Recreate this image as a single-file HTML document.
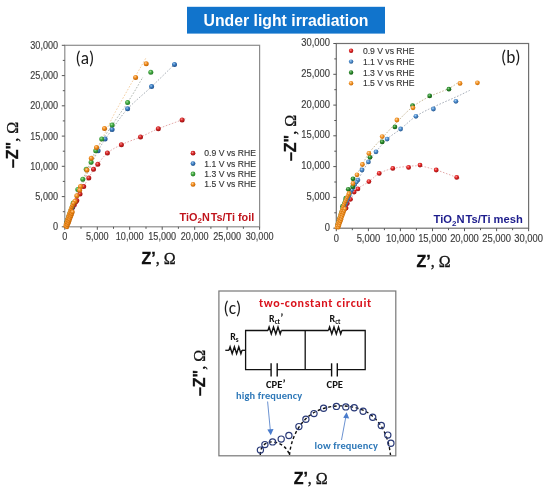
<!DOCTYPE html>
<html><head><meta charset="utf-8"><title>Under light irradiation</title>
<style>
html,body{margin:0;padding:0;background:#fff;}
body{width:550px;height:491px;overflow:hidden;}
svg{display:block;}
.ban{font:bold 15.8px "Liberation Sans",Arial,sans-serif;fill:#fff;}
.tl{font:10.4px "Liberation Sans",Arial,sans-serif;fill:#3c3c3c;stroke:#3c3c3c;stroke-width:0.15px;}
.lg{font:8.6px "Liberation Sans",Arial,sans-serif;fill:#333;stroke:#333;stroke-width:0.12px;}
.pl{font:17.3px Carlito,"Liberation Sans",sans-serif;fill:#1a1a1a;}
.lab{font:bold 11.2px "Liberation Sans",Arial,sans-serif;}
.sub2{font-size:8px;}
.ax{font-size:16px;fill:#111;}
.axb{font-family:"Liberation Sans",Arial,sans-serif;font-weight:bold;stroke:#111;stroke-width:0.35px;}
.axs{font-family:"Liberation Serif","Times New Roman",serif;font-size:16px;stroke:#111;stroke-width:0.3px;}
.cc{font:bold 12px Carlito,"Liberation Sans",sans-serif;fill:#da121c;letter-spacing:0.68px;}
.cl{font:bold 10px Carlito,"Liberation Sans",sans-serif;fill:#111;}
.sub{font-size:7px;}
.cl2{font:bold 10.6px Carlito,"Liberation Sans",sans-serif;fill:#111;}
.fq{font:bold 10.4px Carlito,"Liberation Sans",sans-serif;fill:#2e78b8;letter-spacing:0.15px;}
</style></head><body>
<svg width="550" height="491" viewBox="0 0 550 491">
<defs><radialGradient id="Ar" cx="0.4" cy="0.35" r="0.65"><stop offset="0" stop-color="#f59090"/><stop offset="0.45" stop-color="#d42626"/><stop offset="1" stop-color="#9a1010"/></radialGradient><radialGradient id="Ab" cx="0.4" cy="0.35" r="0.65"><stop offset="0" stop-color="#a0c8ee"/><stop offset="0.45" stop-color="#3a7cc0"/><stop offset="1" stop-color="#1f4f8a"/></radialGradient><radialGradient id="Ag" cx="0.4" cy="0.35" r="0.65"><stop offset="0" stop-color="#a8e0a0"/><stop offset="0.45" stop-color="#42a842"/><stop offset="1" stop-color="#237a23"/></radialGradient><radialGradient id="Ao" cx="0.4" cy="0.35" r="0.65"><stop offset="0" stop-color="#ffd29a"/><stop offset="0.45" stop-color="#f08c1e"/><stop offset="1" stop-color="#c06000"/></radialGradient><radialGradient id="Br" cx="0.4" cy="0.35" r="0.65"><stop offset="0" stop-color="#ff9a9a"/><stop offset="0.45" stop-color="#e02424"/><stop offset="1" stop-color="#a01010"/></radialGradient><radialGradient id="Bb" cx="0.4" cy="0.35" r="0.65"><stop offset="0" stop-color="#b0d4f4"/><stop offset="0.45" stop-color="#4a8acb"/><stop offset="1" stop-color="#2a5a90"/></radialGradient><radialGradient id="Bg" cx="0.4" cy="0.35" r="0.65"><stop offset="0" stop-color="#90d090"/><stop offset="0.45" stop-color="#2a8a2a"/><stop offset="1" stop-color="#145a14"/></radialGradient><radialGradient id="Bo" cx="0.4" cy="0.35" r="0.65"><stop offset="0" stop-color="#ffd8a8"/><stop offset="0.45" stop-color="#f29428"/><stop offset="1" stop-color="#c86800"/></radialGradient></defs>
<rect width="550" height="491" fill="#fff"/>
<rect x="187" y="6.8" width="198" height="26.8" fill="#1174cc"/>
<text x="286" y="25.6" text-anchor="middle" class="ban">Under light irradiation</text>
<!-- panel a -->
<rect x="64.8" y="45.3" width="194.8" height="181.5" fill="none" stroke="#8c8c8c" stroke-width="1.2"/>
<line x1="64.8" y1="226.8" x2="64.8" y2="229.8" stroke="#555" stroke-width="1"/>
<line x1="64.8" y1="226.8" x2="61.8" y2="226.8" stroke="#555" stroke-width="1"/>
<line x1="81.0" y1="226.8" x2="81.0" y2="228.8" stroke="#555" stroke-width="1"/>
<line x1="64.8" y1="211.7" x2="62.8" y2="211.7" stroke="#555" stroke-width="1"/>
<line x1="97.3" y1="226.8" x2="97.3" y2="229.8" stroke="#555" stroke-width="1"/>
<line x1="64.8" y1="196.6" x2="61.8" y2="196.6" stroke="#555" stroke-width="1"/>
<line x1="113.5" y1="226.8" x2="113.5" y2="228.8" stroke="#555" stroke-width="1"/>
<line x1="64.8" y1="181.4" x2="62.8" y2="181.4" stroke="#555" stroke-width="1"/>
<line x1="129.7" y1="226.8" x2="129.7" y2="229.8" stroke="#555" stroke-width="1"/>
<line x1="64.8" y1="166.3" x2="61.8" y2="166.3" stroke="#555" stroke-width="1"/>
<line x1="146.0" y1="226.8" x2="146.0" y2="228.8" stroke="#555" stroke-width="1"/>
<line x1="64.8" y1="151.2" x2="62.8" y2="151.2" stroke="#555" stroke-width="1"/>
<line x1="162.2" y1="226.8" x2="162.2" y2="229.8" stroke="#555" stroke-width="1"/>
<line x1="64.8" y1="136.1" x2="61.8" y2="136.1" stroke="#555" stroke-width="1"/>
<line x1="178.4" y1="226.8" x2="178.4" y2="228.8" stroke="#555" stroke-width="1"/>
<line x1="64.8" y1="120.9" x2="62.8" y2="120.9" stroke="#555" stroke-width="1"/>
<line x1="194.7" y1="226.8" x2="194.7" y2="229.8" stroke="#555" stroke-width="1"/>
<line x1="64.8" y1="105.8" x2="61.8" y2="105.8" stroke="#555" stroke-width="1"/>
<line x1="210.9" y1="226.8" x2="210.9" y2="228.8" stroke="#555" stroke-width="1"/>
<line x1="64.8" y1="90.7" x2="62.8" y2="90.7" stroke="#555" stroke-width="1"/>
<line x1="227.1" y1="226.8" x2="227.1" y2="229.8" stroke="#555" stroke-width="1"/>
<line x1="64.8" y1="75.6" x2="61.8" y2="75.6" stroke="#555" stroke-width="1"/>
<line x1="243.4" y1="226.8" x2="243.4" y2="228.8" stroke="#555" stroke-width="1"/>
<line x1="64.8" y1="60.4" x2="62.8" y2="60.4" stroke="#555" stroke-width="1"/>
<line x1="259.6" y1="226.8" x2="259.6" y2="229.8" stroke="#555" stroke-width="1"/>
<line x1="64.8" y1="45.3" x2="61.8" y2="45.3" stroke="#555" stroke-width="1"/>
<text x="64.8" y="239.7" text-anchor="middle" class="tl" textLength="5.1" lengthAdjust="spacingAndGlyphs">0</text>
<text x="58.1" y="230.2" text-anchor="end" class="tl" textLength="5.1" lengthAdjust="spacingAndGlyphs">0</text>
<text x="97.3" y="239.7" text-anchor="middle" class="tl" textLength="22.8" lengthAdjust="spacingAndGlyphs">5,000</text>
<text x="58.1" y="200.0" text-anchor="end" class="tl" textLength="22.8" lengthAdjust="spacingAndGlyphs">5,000</text>
<text x="129.7" y="239.7" text-anchor="middle" class="tl" textLength="27.8" lengthAdjust="spacingAndGlyphs">10,000</text>
<text x="58.1" y="169.7" text-anchor="end" class="tl" textLength="27.8" lengthAdjust="spacingAndGlyphs">10,000</text>
<text x="162.2" y="239.7" text-anchor="middle" class="tl" textLength="27.8" lengthAdjust="spacingAndGlyphs">15,000</text>
<text x="58.1" y="139.5" text-anchor="end" class="tl" textLength="27.8" lengthAdjust="spacingAndGlyphs">15,000</text>
<text x="194.7" y="239.7" text-anchor="middle" class="tl" textLength="27.8" lengthAdjust="spacingAndGlyphs">20,000</text>
<text x="58.1" y="109.2" text-anchor="end" class="tl" textLength="27.8" lengthAdjust="spacingAndGlyphs">20,000</text>
<text x="227.1" y="239.7" text-anchor="middle" class="tl" textLength="27.8" lengthAdjust="spacingAndGlyphs">25,000</text>
<text x="58.1" y="79.0" text-anchor="end" class="tl" textLength="27.8" lengthAdjust="spacingAndGlyphs">25,000</text>
<text x="259.6" y="239.7" text-anchor="middle" class="tl" textLength="27.8" lengthAdjust="spacingAndGlyphs">30,000</text>
<text x="58.1" y="48.7" text-anchor="end" class="tl" textLength="27.8" lengthAdjust="spacingAndGlyphs">30,000</text>
<path d="M65.0,227.0 L65.9,224.9 L67.2,222.0 L68.6,218.6 L70.3,214.9 L72.0,210.9 L73.8,207.0 L75.4,203.3 L77.0,200.0 L78.5,197.0 L80.0,194.0 L81.4,191.0 L82.9,188.2 L84.4,185.4 L85.8,182.8 L87.2,180.3 L88.5,178.0 L89.8,175.9 L91.0,173.9 L92.1,172.1 L93.3,170.5 L94.4,168.9 L95.5,167.4 L96.6,165.8 L97.8,164.3 L99.0,162.8 L100.1,161.2 L101.2,159.8 L102.3,158.3 L103.5,156.9 L104.7,155.6 L106.0,154.3 L107.4,153.0 L108.9,151.8 L110.5,150.7 L112.1,149.6 L113.8,148.6 L115.6,147.6 L117.4,146.7 L119.4,145.7 L121.4,144.7 L123.6,143.7 L125.8,142.7 L128.2,141.8 L130.7,140.8 L133.2,139.9 L135.7,139.0 L138.1,138.0 L140.5,137.0 L142.7,136.0 L144.9,135.0 L147.0,134.0 L149.1,132.9 L151.2,131.9 L153.5,130.8 L155.8,129.8 L158.3,128.7 L161.1,127.6 L164.3,126.4 L167.7,125.1 L171.1,123.9 L174.4,122.7 L177.4,121.6 L180.0,120.6 L182.1,119.9 L183.6,119.4 L184.6,119.0 L185.2,118.8 L185.5,118.7 L185.7,118.6 L185.8,118.6 L185.8,118.6 L186.0,118.5" fill="none" stroke="#e0a0a0" stroke-width="0.9" stroke-dasharray="1.6 1.6"/>
<path d="M65.0,227.0 L66.1,224.2 L67.6,220.4 L69.4,215.9 L71.4,211.0 L73.5,205.7 L75.7,200.3 L77.9,195.0 L80.0,190.0 L82.1,185.1 L84.4,179.9 L86.7,174.6 L89.1,169.4 L91.5,164.2 L93.8,159.3 L96.0,154.8 L98.1,150.7 L100.0,147.2 L101.9,144.1 L103.6,141.4 L105.3,138.9 L106.9,136.6 L108.6,134.3 L110.3,132.0 L112.1,129.5 L113.9,126.9 L115.7,124.3 L117.4,121.8 L119.2,119.2 L121.1,116.7 L123.1,114.1 L125.2,111.5 L127.6,108.8 L130.2,106.1 L133.0,103.4 L136.0,100.6 L139.1,97.8 L142.3,95.0 L145.5,92.2 L148.6,89.4 L151.6,86.6 L154.7,83.7 L157.9,80.5 L161.3,77.3 L164.5,74.1 L167.6,71.1 L170.4,68.4 L172.7,66.1 L174.5,64.4" fill="none" stroke="#9ca4ac" stroke-width="0.9" stroke-dasharray="1.6 1.6"/>
<path d="M65.0,227.0 L65.8,224.8 L66.8,221.7 L68.0,218.1 L69.3,214.1 L70.8,210.0 L72.2,206.0 L73.5,202.2 L74.7,198.9 L75.8,196.2 L76.7,193.7 L77.6,191.5 L78.6,189.4 L79.5,187.3 L80.5,185.1 L81.6,182.6 L82.8,179.8 L84.2,176.6 L85.6,173.1 L87.1,169.5 L88.7,165.7 L90.4,161.8 L92.1,158.0 L93.9,154.2 L95.7,150.7 L97.6,147.3 L99.6,144.0 L101.6,140.7 L103.7,137.5 L105.9,134.3 L108.0,131.2 L110.1,128.1 L112.1,125.1 L114.1,122.2 L116.0,119.3 L118.0,116.6 L119.9,113.8 L121.8,111.1 L123.8,108.4 L125.7,105.5 L127.6,102.6 L129.6,99.4 L131.8,95.8 L134.1,92.1 L136.3,88.4 L138.4,84.9 L140.2,81.7 L141.8,79.0 L143.0,77.0" fill="none" stroke="#a4aca4" stroke-width="0.9" stroke-dasharray="1.6 1.6"/>
<path d="M65.0,227.0 L66.6,223.0 L68.7,217.6 L71.3,211.2 L74.1,204.1 L77.1,196.6 L80.2,189.0 L83.2,181.7 L86.0,175.0 L88.8,168.5 L91.7,161.9 L94.7,155.2 L97.7,148.7 L100.6,142.3 L103.4,136.2 L106.1,130.6 L108.5,125.5 L110.6,121.2 L112.4,117.6 L113.9,114.6 L115.4,111.8 L116.9,109.1 L118.5,106.2 L120.3,102.9 L122.5,99.0 L125.2,94.2 L128.4,88.6 L131.8,82.5 L135.4,76.3 L138.8,70.4 L142.0,64.9 L144.6,60.3 L146.5,57.0" fill="none" stroke="#f2c896" stroke-width="0.9" stroke-dasharray="1.6 1.6"/>
<circle cx="182.1" cy="119.9" r="2.5" fill="url(#Ar)"/>
<circle cx="158.3" cy="128.7" r="2.5" fill="url(#Ar)"/>
<circle cx="140.5" cy="137.0" r="2.5" fill="url(#Ar)"/>
<circle cx="121.4" cy="144.7" r="2.5" fill="url(#Ar)"/>
<circle cx="107.4" cy="153.0" r="2.5" fill="url(#Ar)"/>
<circle cx="97.8" cy="164.3" r="2.5" fill="url(#Ar)"/>
<circle cx="93.5" cy="169.3" r="2.5" fill="url(#Ar)"/>
<circle cx="88.8" cy="178.0" r="2.5" fill="url(#Ar)"/>
<circle cx="83.7" cy="186.6" r="2.5" fill="url(#Ar)"/>
<circle cx="80.0" cy="194.0" r="2.5" fill="url(#Ar)"/>
<circle cx="76.8" cy="200.4" r="2.5" fill="url(#Ar)"/>
<circle cx="66.0" cy="224.0" r="2.2" fill="url(#Ar)"/>
<circle cx="67.0" cy="221.2" r="2.2" fill="url(#Ar)"/>
<circle cx="68.0" cy="218.3" r="2.2" fill="url(#Ar)"/>
<circle cx="69.0" cy="215.5" r="2.2" fill="url(#Ar)"/>
<circle cx="70.1" cy="212.7" r="2.2" fill="url(#Ar)"/>
<circle cx="71.5" cy="210.1" r="2.2" fill="url(#Ar)"/>
<circle cx="73.1" cy="207.5" r="2.2" fill="url(#Ar)"/>
<circle cx="74.6" cy="204.9" r="2.2" fill="url(#Ar)"/>
<circle cx="75.9" cy="202.2" r="2.2" fill="url(#Ar)"/>
<circle cx="174.5" cy="64.4" r="2.5" fill="url(#Ab)"/>
<circle cx="151.6" cy="86.6" r="2.5" fill="url(#Ab)"/>
<circle cx="127.6" cy="108.8" r="2.5" fill="url(#Ab)"/>
<circle cx="112.1" cy="129.5" r="2.5" fill="url(#Ab)"/>
<circle cx="105.1" cy="139.0" r="2.5" fill="url(#Ab)"/>
<circle cx="98.1" cy="150.7" r="2.5" fill="url(#Ab)"/>
<circle cx="66.0" cy="224.0" r="2.2" fill="url(#Ab)"/>
<circle cx="67.1" cy="221.2" r="2.2" fill="url(#Ab)"/>
<circle cx="68.2" cy="218.4" r="2.2" fill="url(#Ab)"/>
<circle cx="69.4" cy="215.6" r="2.2" fill="url(#Ab)"/>
<circle cx="70.4" cy="212.9" r="2.2" fill="url(#Ab)"/>
<circle cx="71.5" cy="210.0" r="2.2" fill="url(#Ab)"/>
<circle cx="72.5" cy="207.2" r="2.2" fill="url(#Ab)"/>
<circle cx="150.8" cy="72.3" r="2.5" fill="url(#Ag)"/>
<circle cx="127.6" cy="102.6" r="2.5" fill="url(#Ag)"/>
<circle cx="112.1" cy="125.1" r="2.5" fill="url(#Ag)"/>
<circle cx="101.7" cy="139.0" r="2.5" fill="url(#Ag)"/>
<circle cx="95.7" cy="150.7" r="2.5" fill="url(#Ag)"/>
<circle cx="91.1" cy="162.3" r="2.5" fill="url(#Ag)"/>
<circle cx="86.2" cy="169.3" r="2.5" fill="url(#Ag)"/>
<circle cx="82.8" cy="179.3" r="2.5" fill="url(#Ag)"/>
<circle cx="77.8" cy="189.4" r="2.5" fill="url(#Ag)"/>
<circle cx="73.2" cy="203.1" r="2.5" fill="url(#Ag)"/>
<circle cx="66.0" cy="224.0" r="2.2" fill="url(#Ag)"/>
<circle cx="66.9" cy="221.2" r="2.2" fill="url(#Ag)"/>
<circle cx="67.9" cy="218.3" r="2.2" fill="url(#Ag)"/>
<circle cx="68.8" cy="215.5" r="2.2" fill="url(#Ag)"/>
<circle cx="69.8" cy="212.6" r="2.2" fill="url(#Ag)"/>
<circle cx="70.8" cy="209.8" r="2.2" fill="url(#Ag)"/>
<circle cx="71.8" cy="207.0" r="2.2" fill="url(#Ag)"/>
<circle cx="72.8" cy="204.1" r="2.2" fill="url(#Ag)"/>
<circle cx="146.2" cy="63.8" r="2.5" fill="url(#Ao)"/>
<circle cx="135.6" cy="77.4" r="2.5" fill="url(#Ao)"/>
<circle cx="104.5" cy="128.5" r="2.5" fill="url(#Ao)"/>
<circle cx="96.5" cy="147.5" r="2.5" fill="url(#Ao)"/>
<circle cx="91.3" cy="158.3" r="2.5" fill="url(#Ao)"/>
<circle cx="86.9" cy="170.1" r="2.5" fill="url(#Ao)"/>
<circle cx="80.5" cy="186.6" r="2.5" fill="url(#Ao)"/>
<circle cx="79.6" cy="190.3" r="2.5" fill="url(#Ao)"/>
<circle cx="76.8" cy="195.8" r="2.5" fill="url(#Ao)"/>
<circle cx="75.0" cy="201.3" r="2.5" fill="url(#Ao)"/>
<circle cx="65.5" cy="226.0" r="2.2" fill="url(#Ao)"/>
<circle cx="66.1" cy="224.1" r="2.2" fill="url(#Ao)"/>
<circle cx="66.7" cy="222.2" r="2.2" fill="url(#Ao)"/>
<circle cx="67.3" cy="220.3" r="2.2" fill="url(#Ao)"/>
<circle cx="67.9" cy="218.4" r="2.2" fill="url(#Ao)"/>
<circle cx="68.5" cy="216.5" r="2.2" fill="url(#Ao)"/>
<circle cx="69.1" cy="214.6" r="2.2" fill="url(#Ao)"/>
<circle cx="69.7" cy="212.7" r="2.2" fill="url(#Ao)"/>
<circle cx="70.4" cy="210.8" r="2.2" fill="url(#Ao)"/>
<circle cx="71.0" cy="208.9" r="2.2" fill="url(#Ao)"/>
<circle cx="71.8" cy="207.0" r="2.2" fill="url(#Ao)"/>
<circle cx="72.6" cy="205.2" r="2.2" fill="url(#Ao)"/>
<circle cx="73.4" cy="203.3" r="2.2" fill="url(#Ao)"/>
<circle cx="67.0" cy="227.0" r="2.2" fill="url(#Ao)"/>
<circle cx="67.7" cy="225.1" r="2.2" fill="url(#Ao)"/>
<circle cx="68.4" cy="223.3" r="2.2" fill="url(#Ao)"/>
<circle cx="69.1" cy="221.4" r="2.2" fill="url(#Ao)"/>
<circle cx="69.8" cy="219.5" r="2.2" fill="url(#Ao)"/>
<circle cx="70.5" cy="217.6" r="2.2" fill="url(#Ao)"/>
<circle cx="71.2" cy="215.8" r="2.2" fill="url(#Ao)"/>
<circle cx="71.9" cy="213.9" r="2.2" fill="url(#Ao)"/>
<circle cx="72.6" cy="212.0" r="2.2" fill="url(#Ao)"/>
<text x="75.5" y="63.5" class="pl" lengthAdjust="spacingAndGlyphs" textLength="18.77">(a)</text>
<circle cx="193" cy="153.2" r="2.4" fill="url(#Ar)"/>
<text x="204.3" y="156.2" class="lg">0.9 V vs RHE</text>
<circle cx="193" cy="163.6" r="2.4" fill="url(#Ab)"/>
<text x="204.3" y="166.6" class="lg">1.1 V vs RHE</text>
<circle cx="193" cy="174.0" r="2.4" fill="url(#Ag)"/>
<text x="204.3" y="177.0" class="lg">1.3 V vs RHE</text>
<circle cx="193" cy="184.4" r="2.4" fill="url(#Ao)"/>
<text x="204.3" y="187.4" class="lg">1.5 V vs RHE</text>
<text x="179.6" y="220.8" class="lab" fill="#c0141c" style="font-size:10.85px">TiO<tspan class="sub2" dy="2.5">2</tspan><tspan dy="-2.5">N&#8202;Ts/Ti foil</tspan></text>
<text transform="translate(18.3,145) rotate(-90)" text-anchor="middle" class="ax"><tspan class="axb">&#8211;Z"</tspan><tspan class="axs">, &#937;</tspan></text>
<text x="158.5" y="264.4" text-anchor="middle" class="ax"><tspan class="axb">Z&#8217;</tspan><tspan class="axs">, &#937;</tspan></text>
<!-- panel b -->
<rect x="336.3" y="43.5" width="192.3" height="184.7" fill="none" stroke="#707070" stroke-width="1.2"/>
<line x1="336.3" y1="228.2" x2="336.3" y2="231.2" stroke="#555" stroke-width="1"/>
<line x1="336.3" y1="228.2" x2="333.3" y2="228.2" stroke="#555" stroke-width="1"/>
<line x1="352.3" y1="228.2" x2="352.3" y2="230.2" stroke="#555" stroke-width="1"/>
<line x1="336.3" y1="212.8" x2="334.3" y2="212.8" stroke="#555" stroke-width="1"/>
<line x1="368.4" y1="228.2" x2="368.4" y2="231.2" stroke="#555" stroke-width="1"/>
<line x1="336.3" y1="197.4" x2="333.3" y2="197.4" stroke="#555" stroke-width="1"/>
<line x1="384.4" y1="228.2" x2="384.4" y2="230.2" stroke="#555" stroke-width="1"/>
<line x1="336.3" y1="182.0" x2="334.3" y2="182.0" stroke="#555" stroke-width="1"/>
<line x1="400.4" y1="228.2" x2="400.4" y2="231.2" stroke="#555" stroke-width="1"/>
<line x1="336.3" y1="166.6" x2="333.3" y2="166.6" stroke="#555" stroke-width="1"/>
<line x1="416.4" y1="228.2" x2="416.4" y2="230.2" stroke="#555" stroke-width="1"/>
<line x1="336.3" y1="151.2" x2="334.3" y2="151.2" stroke="#555" stroke-width="1"/>
<line x1="432.5" y1="228.2" x2="432.5" y2="231.2" stroke="#555" stroke-width="1"/>
<line x1="336.3" y1="135.8" x2="333.3" y2="135.8" stroke="#555" stroke-width="1"/>
<line x1="448.5" y1="228.2" x2="448.5" y2="230.2" stroke="#555" stroke-width="1"/>
<line x1="336.3" y1="120.5" x2="334.3" y2="120.5" stroke="#555" stroke-width="1"/>
<line x1="464.5" y1="228.2" x2="464.5" y2="231.2" stroke="#555" stroke-width="1"/>
<line x1="336.3" y1="105.1" x2="333.3" y2="105.1" stroke="#555" stroke-width="1"/>
<line x1="480.5" y1="228.2" x2="480.5" y2="230.2" stroke="#555" stroke-width="1"/>
<line x1="336.3" y1="89.7" x2="334.3" y2="89.7" stroke="#555" stroke-width="1"/>
<line x1="496.6" y1="228.2" x2="496.6" y2="231.2" stroke="#555" stroke-width="1"/>
<line x1="336.3" y1="74.3" x2="333.3" y2="74.3" stroke="#555" stroke-width="1"/>
<line x1="512.6" y1="228.2" x2="512.6" y2="230.2" stroke="#555" stroke-width="1"/>
<line x1="336.3" y1="58.9" x2="334.3" y2="58.9" stroke="#555" stroke-width="1"/>
<line x1="528.6" y1="228.2" x2="528.6" y2="231.2" stroke="#555" stroke-width="1"/>
<line x1="336.3" y1="43.5" x2="333.3" y2="43.5" stroke="#555" stroke-width="1"/>
<text x="336.3" y="241.6" text-anchor="middle" class="tl" textLength="5.2" lengthAdjust="spacingAndGlyphs">0</text>
<text x="330.0" y="230.6" text-anchor="end" class="tl" textLength="5.2" lengthAdjust="spacingAndGlyphs">0</text>
<text x="368.4" y="241.6" text-anchor="middle" class="tl" textLength="23.5" lengthAdjust="spacingAndGlyphs">5,000</text>
<text x="330.0" y="199.8" text-anchor="end" class="tl" textLength="23.5" lengthAdjust="spacingAndGlyphs">5,000</text>
<text x="400.4" y="241.6" text-anchor="middle" class="tl" textLength="28.7" lengthAdjust="spacingAndGlyphs">10,000</text>
<text x="330.0" y="169.0" text-anchor="end" class="tl" textLength="28.7" lengthAdjust="spacingAndGlyphs">10,000</text>
<text x="432.5" y="241.6" text-anchor="middle" class="tl" textLength="28.7" lengthAdjust="spacingAndGlyphs">15,000</text>
<text x="330.0" y="138.2" text-anchor="end" class="tl" textLength="28.7" lengthAdjust="spacingAndGlyphs">15,000</text>
<text x="464.5" y="241.6" text-anchor="middle" class="tl" textLength="28.7" lengthAdjust="spacingAndGlyphs">20,000</text>
<text x="330.0" y="107.5" text-anchor="end" class="tl" textLength="28.7" lengthAdjust="spacingAndGlyphs">20,000</text>
<text x="496.6" y="241.6" text-anchor="middle" class="tl" textLength="28.7" lengthAdjust="spacingAndGlyphs">25,000</text>
<text x="330.0" y="76.7" text-anchor="end" class="tl" textLength="28.7" lengthAdjust="spacingAndGlyphs">25,000</text>
<text x="528.6" y="241.6" text-anchor="middle" class="tl" textLength="28.7" lengthAdjust="spacingAndGlyphs">30,000</text>
<text x="330.0" y="45.9" text-anchor="end" class="tl" textLength="28.7" lengthAdjust="spacingAndGlyphs">30,000</text>
<path d="M336.5,228.0 L336.8,227.0 L337.1,225.5 L337.4,223.8 L337.9,221.9 L338.3,220.0 L338.9,218.1 L339.4,216.4 L340.0,215.0 L340.6,213.9 L341.4,212.9 L342.2,212.0 L343.0,211.3 L343.8,210.6 L344.6,209.8 L345.4,209.0 L346.1,208.1 L346.7,207.1 L347.2,206.1 L347.7,205.0 L348.2,203.9 L348.7,202.8 L349.2,201.7 L349.8,200.5 L350.5,199.3 L351.3,198.1 L352.1,196.7 L352.9,195.4 L353.8,194.0 L354.7,192.6 L355.7,191.3 L356.8,190.1 L357.9,188.9 L359.1,187.8 L360.4,186.9 L361.8,186.0 L363.2,185.1 L364.7,184.3 L366.1,183.4 L367.5,182.5 L368.9,181.6 L370.2,180.6 L371.4,179.5 L372.7,178.5 L373.9,177.4 L375.1,176.3 L376.4,175.2 L377.8,174.3 L379.2,173.4 L380.7,172.6 L382.3,171.9 L384.0,171.2 L385.7,170.5 L387.4,169.9 L389.2,169.4 L391.0,168.9 L392.8,168.4 L394.7,168.0 L396.7,167.7 L398.8,167.4 L400.8,167.1 L402.9,166.9 L404.9,166.7 L406.8,166.6 L408.6,166.4 L410.2,166.2 L411.6,166.1 L413.0,165.9 L414.3,165.8 L415.6,165.8 L416.9,165.8 L418.4,165.8 L420.0,166.0 L421.8,166.3 L423.6,166.6 L425.5,167.0 L427.5,167.5 L429.6,168.1 L431.7,168.7 L433.9,169.3 L436.2,170.0 L438.7,170.8 L441.4,171.7 L444.3,172.8 L447.3,173.9 L450.1,174.9 L452.7,175.9 L454.9,176.7 L456.7,177.4 L458.0,177.9 L458.8,178.2 L459.3,178.5 L459.6,178.7 L459.8,178.8 L459.8,178.8 L459.9,178.9 L460.0,179.0" fill="none" stroke="#e0a0a0" stroke-width="0.9" stroke-dasharray="1.6 1.6"/>
<path d="M336.5,228.0 L337.1,226.2 L337.9,223.9 L338.9,221.1 L339.9,218.1 L341.1,214.8 L342.4,211.4 L343.7,208.1 L345.0,205.0 L346.4,201.9 L348.0,198.8 L349.6,195.5 L351.3,192.2 L353.0,189.0 L354.7,185.9 L356.4,182.9 L357.9,180.1 L359.3,177.4 L360.8,174.9 L362.1,172.4 L363.5,170.1 L364.8,167.8 L366.0,165.7 L367.2,163.7 L368.4,161.9 L369.5,160.3 L370.4,158.9 L371.3,157.6 L372.2,156.5 L373.0,155.4 L373.9,154.3 L374.9,153.1 L376.0,151.8 L377.2,150.3 L378.5,148.7 L379.8,147.1 L381.2,145.5 L382.6,143.8 L384.1,142.2 L385.6,140.6 L387.1,139.1 L388.7,137.7 L390.3,136.5 L391.9,135.2 L393.6,134.0 L395.3,132.9 L397.0,131.6 L398.8,130.4 L400.6,129.0 L402.4,127.5 L404.2,125.9 L406.1,124.3 L408.0,122.6 L409.9,120.9 L411.9,119.3 L413.9,117.7 L415.9,116.3 L417.9,115.0 L420.0,113.8 L422.1,112.6 L424.2,111.5 L426.4,110.4 L428.6,109.3 L431.0,108.2 L433.4,107.0 L436.0,105.8 L438.9,104.5 L441.9,103.2 L444.9,101.8 L447.9,100.5 L450.8,99.3 L453.5,98.1 L455.9,97.0 L458.1,96.0 L460.3,95.0 L462.3,94.0 L464.2,93.1 L465.9,92.2 L467.4,91.5 L468.7,90.9 L469.7,90.4" fill="none" stroke="#9ca4b0" stroke-width="0.9" stroke-dasharray="1.6 1.6"/>
<path d="M336.5,228.0 L337.0,226.1 L337.7,223.6 L338.5,220.6 L339.4,217.2 L340.3,213.8 L341.3,210.5 L342.2,207.5 L343.0,205.0 L343.8,203.1 L344.5,201.5 L345.2,200.1 L345.9,198.9 L346.6,197.8 L347.4,196.5 L348.2,195.1 L349.0,193.4 L349.9,191.4 L350.8,189.3 L351.7,187.1 L352.6,184.7 L353.6,182.3 L354.7,179.8 L355.8,177.3 L357.0,174.8 L358.3,172.2 L359.7,169.5 L361.1,166.7 L362.6,163.9 L364.2,161.1 L365.7,158.4 L367.3,155.8 L368.9,153.4 L370.5,151.2 L372.1,149.1 L373.7,147.2 L375.4,145.4 L377.0,143.6 L378.7,141.8 L380.5,139.9 L382.2,138.0 L384.0,136.0 L385.7,134.0 L387.5,132.0 L389.4,130.0 L391.2,128.0 L393.1,126.0 L395.0,124.0 L396.9,122.0 L398.8,120.0 L400.8,118.0 L402.8,115.9 L404.8,113.9 L406.9,111.9 L408.9,110.0 L410.9,108.2 L413.0,106.5 L415.0,105.0 L417.1,103.6 L419.1,102.3 L421.2,101.0 L423.2,99.9 L425.3,98.7 L427.5,97.6 L429.7,96.5 L432.0,95.4 L434.6,94.3 L437.2,93.3 L439.8,92.3 L442.3,91.3 L444.8,90.3 L447.0,89.4 L448.9,88.5 L450.6,87.6 L452.1,86.7 L453.5,85.8 L454.6,85.0 L455.7,84.2 L456.6,83.5 L457.4,82.9 L458.0,82.4" fill="none" stroke="#bfae88" stroke-width="0.9" stroke-dasharray="1.6 1.6"/>
<circle cx="456.7" cy="177.4" r="2.4" fill="url(#Br)"/>
<circle cx="436.2" cy="170.0" r="2.4" fill="url(#Br)"/>
<circle cx="420.0" cy="165.1" r="2.4" fill="url(#Br)"/>
<circle cx="408.6" cy="167.4" r="2.4" fill="url(#Br)"/>
<circle cx="392.8" cy="168.4" r="2.4" fill="url(#Br)"/>
<circle cx="379.2" cy="173.4" r="2.4" fill="url(#Br)"/>
<circle cx="368.9" cy="181.6" r="2.4" fill="url(#Br)"/>
<circle cx="357.9" cy="188.9" r="2.4" fill="url(#Br)"/>
<circle cx="354.2" cy="192.0" r="2.4" fill="url(#Br)"/>
<circle cx="350.5" cy="199.3" r="2.4" fill="url(#Br)"/>
<circle cx="347.3" cy="203.5" r="2.4" fill="url(#Br)"/>
<circle cx="346.1" cy="208.1" r="2.4" fill="url(#Br)"/>
<circle cx="337.0" cy="226.0" r="2.0" fill="url(#Br)"/>
<circle cx="337.9" cy="223.6" r="2.0" fill="url(#Br)"/>
<circle cx="338.7" cy="221.3" r="2.0" fill="url(#Br)"/>
<circle cx="339.6" cy="219.0" r="2.0" fill="url(#Br)"/>
<circle cx="340.6" cy="216.7" r="2.0" fill="url(#Br)"/>
<circle cx="341.7" cy="214.4" r="2.0" fill="url(#Br)"/>
<circle cx="342.9" cy="212.2" r="2.0" fill="url(#Br)"/>
<circle cx="344.3" cy="210.2" r="2.0" fill="url(#Br)"/>
<circle cx="345.9" cy="208.3" r="2.0" fill="url(#Br)"/>
<circle cx="455.9" cy="101.3" r="2.4" fill="url(#Bb)"/>
<circle cx="433.4" cy="109.0" r="2.4" fill="url(#Bb)"/>
<circle cx="415.9" cy="116.3" r="2.4" fill="url(#Bb)"/>
<circle cx="400.6" cy="129.0" r="2.4" fill="url(#Bb)"/>
<circle cx="387.1" cy="139.1" r="2.4" fill="url(#Bb)"/>
<circle cx="376.0" cy="151.8" r="2.4" fill="url(#Bb)"/>
<circle cx="368.4" cy="161.9" r="2.4" fill="url(#Bb)"/>
<circle cx="362.0" cy="170.0" r="2.4" fill="url(#Bb)"/>
<circle cx="357.9" cy="180.1" r="2.4" fill="url(#Bb)"/>
<circle cx="337.0" cy="226.0" r="2.0" fill="url(#Bb)"/>
<circle cx="337.9" cy="223.1" r="2.0" fill="url(#Bb)"/>
<circle cx="338.8" cy="220.3" r="2.0" fill="url(#Bb)"/>
<circle cx="339.8" cy="217.4" r="2.0" fill="url(#Bb)"/>
<circle cx="340.8" cy="214.6" r="2.0" fill="url(#Bb)"/>
<circle cx="341.9" cy="211.8" r="2.0" fill="url(#Bb)"/>
<circle cx="343.1" cy="209.1" r="2.0" fill="url(#Bb)"/>
<circle cx="344.4" cy="206.4" r="2.0" fill="url(#Bb)"/>
<circle cx="345.7" cy="203.7" r="2.0" fill="url(#Bb)"/>
<circle cx="346.9" cy="200.9" r="2.0" fill="url(#Bb)"/>
<circle cx="348.2" cy="198.2" r="2.0" fill="url(#Bb)"/>
<circle cx="349.4" cy="195.5" r="2.0" fill="url(#Bb)"/>
<circle cx="350.6" cy="192.7" r="2.0" fill="url(#Bb)"/>
<circle cx="352.0" cy="190.1" r="2.0" fill="url(#Bb)"/>
<circle cx="353.4" cy="187.4" r="2.0" fill="url(#Bb)"/>
<circle cx="355.0" cy="184.8" r="2.0" fill="url(#Bb)"/>
<circle cx="356.5" cy="182.3" r="2.0" fill="url(#Bb)"/>
<circle cx="448.9" cy="89.2" r="2.4" fill="url(#Bg)"/>
<circle cx="429.7" cy="95.9" r="2.4" fill="url(#Bg)"/>
<circle cx="412.6" cy="105.6" r="2.4" fill="url(#Bg)"/>
<circle cx="394.9" cy="126.9" r="2.4" fill="url(#Bg)"/>
<circle cx="382.2" cy="141.9" r="2.4" fill="url(#Bg)"/>
<circle cx="370.0" cy="157.3" r="2.4" fill="url(#Bg)"/>
<circle cx="353.0" cy="178.8" r="2.4" fill="url(#Bg)"/>
<circle cx="352.7" cy="186.7" r="2.4" fill="url(#Bg)"/>
<circle cx="348.3" cy="189.3" r="2.4" fill="url(#Bg)"/>
<circle cx="345.8" cy="198.1" r="2.4" fill="url(#Bg)"/>
<circle cx="342.5" cy="206.5" r="2.4" fill="url(#Bg)"/>
<circle cx="337.0" cy="226.0" r="2.0" fill="url(#Bg)"/>
<circle cx="337.7" cy="223.6" r="2.0" fill="url(#Bg)"/>
<circle cx="338.4" cy="221.2" r="2.0" fill="url(#Bg)"/>
<circle cx="339.1" cy="218.8" r="2.0" fill="url(#Bg)"/>
<circle cx="339.9" cy="216.4" r="2.0" fill="url(#Bg)"/>
<circle cx="340.6" cy="214.0" r="2.0" fill="url(#Bg)"/>
<circle cx="341.4" cy="211.7" r="2.0" fill="url(#Bg)"/>
<circle cx="342.2" cy="209.3" r="2.0" fill="url(#Bg)"/>
<circle cx="343.0" cy="206.9" r="2.0" fill="url(#Bg)"/>
<circle cx="343.8" cy="204.5" r="2.0" fill="url(#Bg)"/>
<circle cx="344.5" cy="202.2" r="2.0" fill="url(#Bg)"/>
<circle cx="345.3" cy="199.8" r="2.0" fill="url(#Bg)"/>
<circle cx="477.4" cy="82.8" r="2.4" fill="url(#Bo)"/>
<circle cx="460.0" cy="83.4" r="2.4" fill="url(#Bo)"/>
<circle cx="413.0" cy="107.8" r="2.4" fill="url(#Bo)"/>
<circle cx="396.9" cy="120.0" r="2.4" fill="url(#Bo)"/>
<circle cx="382.2" cy="136.6" r="2.4" fill="url(#Bo)"/>
<circle cx="368.9" cy="153.4" r="2.4" fill="url(#Bo)"/>
<circle cx="362.4" cy="164.5" r="2.4" fill="url(#Bo)"/>
<circle cx="357.0" cy="174.8" r="2.4" fill="url(#Bo)"/>
<circle cx="353.0" cy="183.5" r="2.4" fill="url(#Bo)"/>
<circle cx="349.0" cy="193.4" r="2.4" fill="url(#Bo)"/>
<circle cx="336.6" cy="227.5" r="2.0" fill="url(#Bo)"/>
<circle cx="337.1" cy="225.6" r="2.0" fill="url(#Bo)"/>
<circle cx="337.7" cy="223.6" r="2.0" fill="url(#Bo)"/>
<circle cx="338.2" cy="221.7" r="2.0" fill="url(#Bo)"/>
<circle cx="338.8" cy="219.8" r="2.0" fill="url(#Bo)"/>
<circle cx="339.3" cy="217.9" r="2.0" fill="url(#Bo)"/>
<circle cx="340.0" cy="216.0" r="2.0" fill="url(#Bo)"/>
<circle cx="340.6" cy="214.1" r="2.0" fill="url(#Bo)"/>
<circle cx="341.2" cy="212.2" r="2.0" fill="url(#Bo)"/>
<circle cx="341.9" cy="210.3" r="2.0" fill="url(#Bo)"/>
<circle cx="342.6" cy="208.4" r="2.0" fill="url(#Bo)"/>
<circle cx="343.2" cy="206.5" r="2.0" fill="url(#Bo)"/>
<circle cx="343.9" cy="204.7" r="2.0" fill="url(#Bo)"/>
<circle cx="344.7" cy="202.8" r="2.0" fill="url(#Bo)"/>
<circle cx="345.5" cy="201.0" r="2.0" fill="url(#Bo)"/>
<circle cx="346.3" cy="199.1" r="2.0" fill="url(#Bo)"/>
<circle cx="347.1" cy="197.3" r="2.0" fill="url(#Bo)"/>
<circle cx="348.0" cy="195.5" r="2.0" fill="url(#Bo)"/>
<circle cx="348.9" cy="193.7" r="2.0" fill="url(#Bo)"/>
<circle cx="338.5" cy="227.5" r="2.0" fill="url(#Bo)"/>
<circle cx="339.2" cy="225.4" r="2.0" fill="url(#Bo)"/>
<circle cx="339.9" cy="223.3" r="2.0" fill="url(#Bo)"/>
<circle cx="340.6" cy="221.2" r="2.0" fill="url(#Bo)"/>
<circle cx="341.3" cy="219.2" r="2.0" fill="url(#Bo)"/>
<circle cx="342.0" cy="217.1" r="2.0" fill="url(#Bo)"/>
<circle cx="342.8" cy="215.0" r="2.0" fill="url(#Bo)"/>
<circle cx="343.5" cy="212.9" r="2.0" fill="url(#Bo)"/>
<circle cx="344.2" cy="210.9" r="2.0" fill="url(#Bo)"/>
<circle cx="344.9" cy="208.8" r="2.0" fill="url(#Bo)"/>
<text x="501" y="62.5" class="pl" lengthAdjust="spacingAndGlyphs" textLength="19.56">(b)</text>
<circle cx="351.1" cy="50.8" r="2.2" fill="url(#Br)"/>
<text x="362.9" y="53.8" class="lg">0.9 V vs RHE</text>
<circle cx="351.1" cy="61.6" r="2.2" fill="url(#Bb)"/>
<text x="362.9" y="64.7" class="lg">1.1 V vs RHE</text>
<circle cx="351.1" cy="72.5" r="2.2" fill="url(#Bg)"/>
<text x="362.9" y="75.5" class="lg">1.3 V vs RHE</text>
<circle cx="351.1" cy="83.3" r="2.2" fill="url(#Bo)"/>
<text x="362.9" y="86.3" class="lg">1.5 V vs RHE</text>
<text x="433.5" y="223.2" class="lab" fill="#1c1c8c">TiO<tspan class="sub2" dy="2.5">2</tspan><tspan dy="-2.5">N&#8202;Ts/Ti mesh</tspan></text>
<text transform="translate(296.4,138) rotate(-90)" text-anchor="middle" class="ax"><tspan class="axb">&#8211;Z"</tspan><tspan class="axs">, &#937;</tspan></text>
<text x="433.5" y="267.3" text-anchor="middle" class="ax"><tspan class="axb">Z&#8217;</tspan><tspan class="axs">, &#937;</tspan></text>
<!-- panel c -->
<rect x="218.9" y="291" width="176.9" height="164.8" fill="none" stroke="#777" stroke-width="1.2"/>
<text x="223.5" y="314" class="pl" lengthAdjust="spacingAndGlyphs" textLength="17.8">(c)</text>
<text x="258.9" y="307.3" class="cc" lengthAdjust="spacingAndGlyphs" textLength="113.05">two-constant circuit</text>
<line x1="225.3" y1="350.3" x2="229" y2="350.3" stroke="#111" stroke-width="1.3" fill="none"/>
<polyline points="229.0,350.3 230.1,346.9 232.2,353.7 234.4,346.9 236.6,353.7 238.8,346.9 240.9,353.7 242.0,350.3" fill="none" stroke="#111" stroke-width="1.45" stroke-linejoin="miter"/>
<line x1="242" y1="350.3" x2="245.6" y2="350.3" stroke="#111" stroke-width="1.3" fill="none"/>
<polyline points="268,330.5 245.6,330.5 245.6,369.6 271.1,369.6" stroke="#111" stroke-width="1.3" fill="none"/>
<polyline points="268.0,330.5 269.1,327.1 271.3,333.9 273.5,327.1 275.8,333.9 278.0,327.1 280.2,333.9 281.3,330.5" fill="none" stroke="#111" stroke-width="1.45" stroke-linejoin="miter"/>
<polyline points="281.3,330.5 328.5,330.5" stroke="#111" stroke-width="1.3" fill="none"/>
<polyline points="328.5,330.5 329.6,327.1 331.8,333.9 334.0,327.1 336.3,333.9 338.5,327.1 340.7,333.9 341.8,330.5" fill="none" stroke="#111" stroke-width="1.45" stroke-linejoin="miter"/>
<polyline points="341.8,330.5 365.2,330.5 365.2,369.6 337.3,369.6" stroke="#111" stroke-width="1.3" fill="none"/>
<line x1="305.2" y1="330.5" x2="305.2" y2="369.6" stroke="#111" stroke-width="1.3" fill="none"/>
<line x1="277.2" y1="369.6" x2="331.6" y2="369.6" stroke="#111" stroke-width="1.3" fill="none"/>
<line x1="271.1" y1="363.3" x2="271.1" y2="376.5" stroke="#111" stroke-width="1.4"/>
<line x1="277.2" y1="363.3" x2="277.2" y2="376.5" stroke="#111" stroke-width="1.4"/>
<line x1="331.6" y1="363.3" x2="331.6" y2="376.5" stroke="#111" stroke-width="1.4"/>
<line x1="337.3" y1="363.3" x2="337.3" y2="376.5" stroke="#111" stroke-width="1.4"/>
<text x="230.2" y="339.5" class="cl">R<tspan class="sub" dy="2.2">s</tspan></text>
<text x="269" y="322" class="cl">R<tspan class="sub" dy="2.2">ct</tspan><tspan dy="-2.4" dx="0.3" style="font-size:12px">&#8217;</tspan></text>
<text x="329.5" y="322" class="cl">R<tspan class="sub" dy="2.2">ct</tspan></text>
<text x="266" y="387.5" class="cl2" lengthAdjust="spacingAndGlyphs" textLength="19.52">CPE<tspan style="font-size:12px">&#8217;</tspan></text>
<text x="326.6" y="387.5" class="cl2" lengthAdjust="spacingAndGlyphs" textLength="16.42">CPE</text>
<text x="236" y="398.8" class="fq" lengthAdjust="spacingAndGlyphs" textLength="66.41">high frequency</text>
<text x="314.5" y="449" class="fq" lengthAdjust="spacingAndGlyphs" textLength="63.48">low frequency</text>
<line x1="267.6" y1="401.5" x2="270.3" y2="430" stroke="#5a86cc" stroke-width="0.9"/>
<polygon points="267.3,429.5 273.5,429 270.8,435.3" fill="#4a7ccc"/>
<line x1="341.5" y1="440" x2="345.8" y2="417" stroke="#5a86cc" stroke-width="0.9"/>
<polygon points="343.2,417.8 349.2,418.6 346.6,412.2" fill="#4a7ccc"/>
<path d="M260.3,455 C260,446 266,441.5 272.6,441.9 C280,442.5 287,447 289.5,455" fill="none" stroke="#111" stroke-width="1.4" stroke-dasharray="3 2.5"/>
<path d="M289.5,455 C291,438 300,420 315,412 C330,404 350,404 365,411 C378,418 388,432 390.5,455" fill="none" stroke="#111" stroke-width="1.4" stroke-dasharray="3 2.5"/>
<circle cx="260.4" cy="450.1" r="3.1" fill="none" stroke="#2a3a78" stroke-width="1.2"/>
<circle cx="264.9" cy="444.6" r="3.1" fill="none" stroke="#2a3a78" stroke-width="1.2"/>
<circle cx="272.6" cy="441.9" r="3.1" fill="none" stroke="#2a3a78" stroke-width="1.2"/>
<circle cx="281.2" cy="439.1" r="3.1" fill="none" stroke="#2a3a78" stroke-width="1.2"/>
<circle cx="288.9" cy="435.5" r="3.1" fill="none" stroke="#2a3a78" stroke-width="1.2"/>
<circle cx="298.9" cy="426.6" r="3.1" fill="none" stroke="#2a3a78" stroke-width="1.2"/>
<circle cx="305.9" cy="419.3" r="3.1" fill="none" stroke="#2a3a78" stroke-width="1.2"/>
<circle cx="314" cy="413.6" r="3.1" fill="none" stroke="#2a3a78" stroke-width="1.2"/>
<circle cx="323.6" cy="408.2" r="3.1" fill="none" stroke="#2a3a78" stroke-width="1.2"/>
<circle cx="336.4" cy="406.4" r="3.1" fill="none" stroke="#2a3a78" stroke-width="1.2"/>
<circle cx="345.8" cy="406.9" r="3.1" fill="none" stroke="#2a3a78" stroke-width="1.2"/>
<circle cx="354.2" cy="407.8" r="3.1" fill="none" stroke="#2a3a78" stroke-width="1.2"/>
<circle cx="363.1" cy="411.3" r="3.1" fill="none" stroke="#2a3a78" stroke-width="1.2"/>
<circle cx="372.7" cy="417.3" r="3.1" fill="none" stroke="#2a3a78" stroke-width="1.2"/>
<circle cx="381.3" cy="425.5" r="3.1" fill="none" stroke="#2a3a78" stroke-width="1.2"/>
<circle cx="387.8" cy="435.1" r="3.1" fill="none" stroke="#2a3a78" stroke-width="1.2"/>
<circle cx="390.9" cy="443.3" r="3.1" fill="none" stroke="#2a3a78" stroke-width="1.2"/>
<text transform="translate(204.8,373) rotate(-90)" text-anchor="middle" class="ax"><tspan class="axb">&#8211;Z"</tspan><tspan class="axs">, &#937;</tspan></text>
<text x="310.7" y="484" text-anchor="middle" class="ax"><tspan class="axb">Z&#8217;</tspan><tspan class="axs">, &#937;</tspan></text>
</svg>
</body></html>
